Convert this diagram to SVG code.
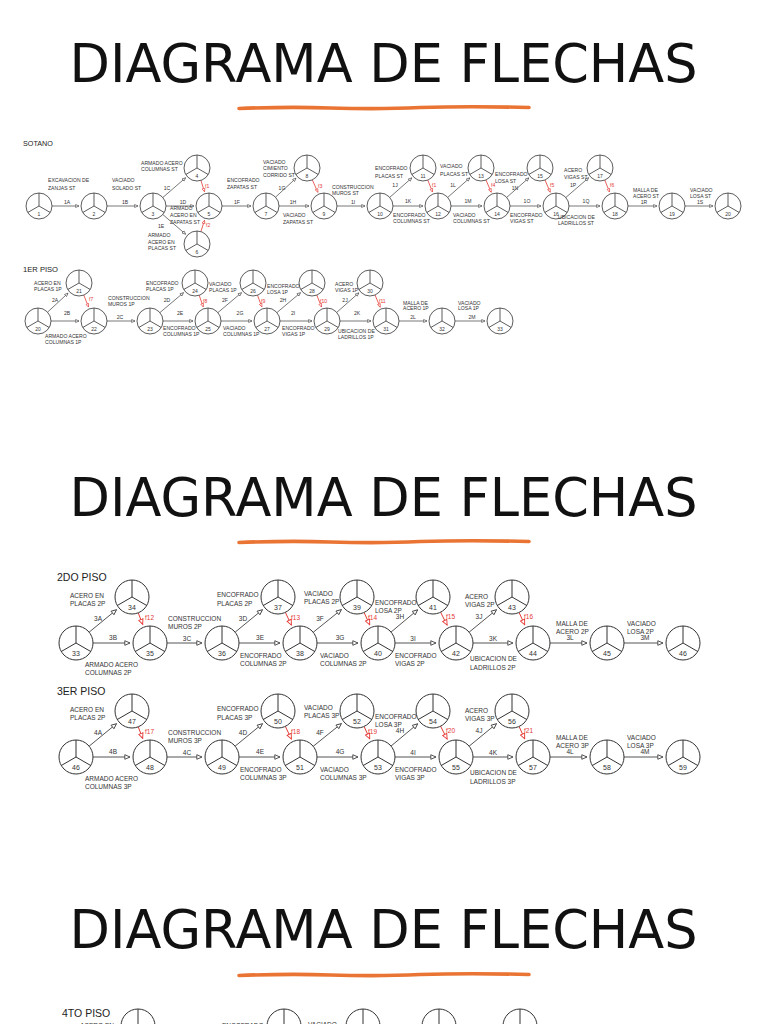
<svg xmlns="http://www.w3.org/2000/svg" width="768" height="1024" viewBox="0 0 768 1024">
<style>
.t{font-family:"DejaVu Sans","Liberation Sans",sans-serif;font-size:52.5px;fill:#111;text-anchor:middle}
.ul{fill:none;stroke:#ea7433;stroke-width:3.6;stroke-linecap:round}
.sec{font-family:"Liberation Sans",Arial,sans-serif;fill:#222}
.l5{font-family:"Liberation Sans",Arial,sans-serif;font-size:5.1px;fill:#333}
.a5{font-family:"Liberation Sans",Arial,sans-serif;font-size:5.1px;fill:#333;text-anchor:middle}
.n5{font-family:"Liberation Sans",Arial,sans-serif;font-size:5px;fill:#333;text-anchor:middle}
.r5{font-family:"Liberation Sans",Arial,sans-serif;font-size:5.1px;fill:#e53935}
.l6{font-family:"Liberation Sans",Arial,sans-serif;font-size:6.5px;fill:#333}
.a6{font-family:"Liberation Sans",Arial,sans-serif;font-size:6.5px;fill:#333;text-anchor:middle}
.n7{font-family:"Liberation Sans",Arial,sans-serif;font-size:7px;fill:#333;text-anchor:middle}
.r6{font-family:"Liberation Sans",Arial,sans-serif;font-size:6.5px;fill:#e53935}
.c1{fill:none;stroke:#555;stroke-width:0.8;marker-end:url(#a1)}
.r1{fill:none;stroke:#e53935;stroke-width:0.8;marker-end:url(#ar1)}
.c2{fill:none;stroke:#555;stroke-width:1;marker-end:url(#a2)}
.r2{fill:none;stroke:#e53935;stroke-width:1;marker-end:url(#ar2)}
</style>
<defs>
<marker id="a1" viewBox="0 0 10 10" refX="9" refY="5" markerWidth="4.2" markerHeight="4.2" markerUnits="userSpaceOnUse" orient="auto"><path d="M1,1.5L9,5L1,8.5Z" fill="#fff" stroke="#444" stroke-width="1.5"/></marker>
<marker id="ar1" viewBox="0 0 10 10" refX="9" refY="5" markerWidth="4.2" markerHeight="4.2" markerUnits="userSpaceOnUse" orient="auto"><path d="M1,1.5L9,5L1,8.5Z" fill="#fff" stroke="#e53935" stroke-width="1.5"/></marker>
<marker id="a2" viewBox="0 0 10 10" refX="9" refY="5" markerWidth="6.5" markerHeight="6.5" markerUnits="userSpaceOnUse" orient="auto"><path d="M1,1.5L9,5L1,8.5Z" fill="#fff" stroke="#444" stroke-width="1.4"/></marker>
<marker id="ar2" viewBox="0 0 10 10" refX="9" refY="5" markerWidth="6.5" markerHeight="6.5" markerUnits="userSpaceOnUse" orient="auto"><path d="M1,1.5L9,5L1,8.5Z" fill="#fff" stroke="#e53935" stroke-width="1.4"/></marker>
<g id="ns"><circle r="13" fill="#fff" stroke="#333" stroke-width="0.8"/><path d="M0,0V-13M0,0L-11.26,6.5M0,0L11.26,6.5" stroke="#333" stroke-width="0.8" fill="none"/></g>
<g id="nl"><circle r="17" fill="#fff" stroke="#333" stroke-width="1"/><path d="M0,0V-17M0,0L-14.72,8.5M0,0L14.72,8.5" stroke="#333" stroke-width="1" fill="none"/></g>
</defs>
<rect width="768" height="1024" fill="#fff"/>

<g id="titles">
<text class="t" x="383.5" y="82">DIAGRAMA DE FLECHAS</text>
<path class="ul" d="M239,108.5Q290,106.5 330,108Q380,109.5 420,107.5Q470,106 529,107.5"/>
<text class="t" x="383.5" y="516">DIAGRAMA DE FLECHAS</text>
<path class="ul" d="M239,542.5Q290,540.5 330,542Q380,543.5 420,541.5Q470,540 529,541.5"/>
<text class="t" x="383.5" y="948">DIAGRAMA DE FLECHAS</text>
<path class="ul" d="M239,975.5Q290,973.5 330,975Q380,976.5 420,974.5Q470,973 529,974.5"/>
</g>

<!-- SOTANO -->
<g id="sotano">
<text class="sec" x="23" y="146" font-size="7.2">SOTANO</text>
<g id="conn-sotano">
<path class="c1" d="M52,206H79"/>
<path class="c1" d="M107,206H138"/>
<path class="c1" d="M162.8,197.5L185.6,177.8"/>
<path class="c1" d="M166,206H194"/>
<path class="c1" d="M162.8,214.5L185.6,234.2"/>
<path class="c1" d="M222,206H251"/>
<path class="c1" d="M275.5,197.2L296,178.2"/>
<path class="c1" d="M279,206H309"/>
<path class="c1" d="M337,206H365"/>
<path class="c1" d="M389.7,197.4L411.8,177.9"/>
<path class="c1" d="M393,206H423"/>
<path class="c1" d="M447.7,197.4L469.8,177.9"/>
<path class="c1" d="M451,206H482"/>
<path class="c1" d="M506.7,197.4L528.8,177.9"/>
<path class="c1" d="M510,206H541"/>
<path class="c1" d="M565.8,197.5L588.6,177.8"/>
<path class="c1" d="M569,206H600"/>
<path class="c1" d="M628,206H657"/>
<path class="c1" d="M685,206H713"/>
<path class="r1" d="M200.9,180.4L204.5,191.7"/>
<path class="r1" d="M200.9,231.6L204.5,220.3"/>
<path class="r1" d="M312.3,179.9L317.9,192.3"/>
<path class="r1" d="M427.8,180.1L432.5,192"/>
<path class="r1" d="M486,180L491.2,192.2"/>
<path class="r1" d="M545,180L550.2,192.2"/>
<path class="r1" d="M604.8,180.1L609.5,192"/>
</g>
<g id="s-n1"><use href="#ns" x="39" y="206"/><text class="n5" x="39" y="216">1</text></g>
<g id="s-n2"><use href="#ns" x="94" y="206"/><text class="n5" x="94" y="216">2</text></g>
<g id="s-n3"><use href="#ns" x="153" y="206"/><text class="n5" x="153" y="216">3</text></g>
<g id="s-n4"><use href="#ns" x="197" y="168"/><text class="n5" x="197" y="178">4</text></g>
<g id="s-n5"><use href="#ns" x="209" y="206"/><text class="n5" x="209" y="216">5</text></g>
<g id="s-n6"><use href="#ns" x="197" y="244"/><text class="n5" x="197" y="254">6</text></g>
<g id="s-n7"><use href="#ns" x="266" y="206"/><text class="n5" x="266" y="216">7</text></g>
<g id="s-n8"><use href="#ns" x="307" y="168"/><text class="n5" x="307" y="178">8</text></g>
<g id="s-n9"><use href="#ns" x="324" y="206"/><text class="n5" x="324" y="216">9</text></g>
<g id="s-n10"><use href="#ns" x="380" y="206"/><text class="n5" x="380" y="216">10</text></g>
<g id="s-n11"><use href="#ns" x="423" y="168"/><text class="n5" x="423" y="178">11</text></g>
<g id="s-n12"><use href="#ns" x="438" y="206"/><text class="n5" x="438" y="216">12</text></g>
<g id="s-n13"><use href="#ns" x="481" y="168"/><text class="n5" x="481" y="178">13</text></g>
<g id="s-n14"><use href="#ns" x="497" y="206"/><text class="n5" x="497" y="216">14</text></g>
<g id="s-n15"><use href="#ns" x="540" y="168"/><text class="n5" x="540" y="178">15</text></g>
<g id="s-n16"><use href="#ns" x="556" y="206"/><text class="n5" x="556" y="216">16</text></g>
<g id="s-n17"><use href="#ns" x="600" y="168"/><text class="n5" x="600" y="178">17</text></g>
<g id="s-n18"><use href="#ns" x="615" y="206"/><text class="n5" x="615" y="216">18</text></g>
<g id="s-n19"><use href="#ns" x="672" y="206"/><text class="n5" x="672" y="216">19</text></g>
<g id="s-n20"><use href="#ns" x="728" y="206"/><text class="n5" x="728" y="216">20</text></g>
<g id="lbl-sotano">
<text class="l5" x="48" y="182">EXCAVACION DE<tspan x="48" y="189.5">ZANJAS ST</tspan></text>
<text class="l5" x="112" y="182">VACIADO<tspan x="112" y="189.5">SOLADO ST</tspan></text>
<text class="l5" x="141" y="164.5">ARMADO ACERO<tspan x="141" y="171">COLUMNAS ST</tspan></text>
<text class="l5" x="170" y="210">ARMADO<tspan x="170" y="216.8">ACERO EN</tspan><tspan x="170" y="223.5">ZAPATAS ST</tspan></text>
<text class="l5" x="148" y="236.8">ARMADO<tspan x="148" y="243.5">ACERO EN</tspan><tspan x="148" y="250">PLACAS ST</tspan></text>
<text class="l5" x="227" y="181.8">ENCOFRADO<tspan x="227" y="189">ZAPATAS ST</tspan></text>
<text class="l5" x="263" y="163.5">VACIADO<tspan x="263" y="170">CIMIENTO</tspan><tspan x="263" y="176.8">CORRIDO ST</tspan></text>
<text class="l5" x="283" y="216.8">VACIADO<tspan x="283" y="224">ZAPATAS ST</tspan></text>
<text class="l5" x="332" y="188.5">CONSTRUCCION<tspan x="332" y="195">MUROS ST</tspan></text>
<text class="l5" x="375" y="170">ENCOFRADO<tspan x="375" y="177.5">PLACAS ST</tspan></text>
<text class="l5" x="393" y="216.5">ENCOFRADO<tspan x="393" y="223">COLUMNAS ST</tspan></text>
<text class="l5" x="440" y="167.8">VACIADO<tspan x="440" y="175.5">PLACAS ST</tspan></text>
<text class="l5" x="453" y="216.5">VACIADO<tspan x="453" y="223">COLUMNAS ST</tspan></text>
<text class="l5" x="495" y="176.3">ENCOFRADO<tspan x="495" y="182.8">LOSA ST</tspan></text>
<text class="l5" x="510" y="216.5">ENCOFRADO<tspan x="510" y="223">VIGAS ST</tspan></text>
<text class="l5" x="564" y="171.8">ACERO<tspan x="564" y="178.5">VIGAS ST</tspan></text>
<text class="l5" x="558" y="218.5">UBICACION DE<tspan x="558" y="225">LADRILLOS ST</tspan></text>
<text class="l5" x="633" y="191.5">MALLA DE<tspan x="633" y="198">ACERO ST</tspan></text>
<text class="l5" x="690" y="191.5">VACIADO<tspan x="690" y="198">LOSA ST</tspan></text>
<text class="a5" x="67" y="203.5">1A</text>
<text class="a5" x="125" y="203.5">1B</text>
<text class="a5" x="167" y="190">1C</text>
<text class="a5" x="183" y="204">1D</text>
<text class="a5" x="161" y="228">1E</text>
<text class="a5" x="237" y="204">1F</text>
<text class="a5" x="282" y="190">1G</text>
<text class="a5" x="293" y="204">1H</text>
<text class="a5" x="353" y="204">1I</text>
<text class="a5" x="395" y="187">1J</text>
<text class="a5" x="408" y="203">1K</text>
<text class="a5" x="453" y="187">1L</text>
<text class="a5" x="468" y="203">1M</text>
<text class="a5" x="515" y="189.5">1N</text>
<text class="a5" x="527" y="203">1O</text>
<text class="a5" x="573" y="187">1P</text>
<text class="a5" x="586" y="203">1Q</text>
<text class="a5" x="644" y="204">1R</text>
<text class="a5" x="700" y="204">1S</text>
<text class="r5" x="205" y="188">f1</text>
<text class="r5" x="206" y="227">f2</text>
<text class="r5" x="318" y="188">f3</text>
<text class="r5" x="432" y="187">f1</text>
<text class="r5" x="491" y="187">f4</text>
<text class="r5" x="550" y="187">f5</text>
<text class="r5" x="610" y="187">f6</text>
</g>
</g>

<!-- 1ER PISO -->
<g id="piso1">
<text class="sec" x="23" y="272" font-size="7.6">1ER PISO</text>
<g id="conn-piso1">
<path class="c1" d="M47.5,312.2L68,293.2"/>
<path class="c1" d="M51,321H79"/>
<path class="c1" d="M107,321H135"/>
<path class="c1" d="M159.9,312.6L183.5,292.7"/>
<path class="c1" d="M163,321H193"/>
<path class="c1" d="M217.9,312.6L241.5,292.7"/>
<path class="c1" d="M221,321H252"/>
<path class="c1" d="M276.9,312.6L300.5,292.7"/>
<path class="c1" d="M280,321H312"/>
<path class="c1" d="M336.7,312.4L358.8,292.9"/>
<path class="c1" d="M340,321H371"/>
<path class="c1" d="M399,321H427"/>
<path class="c1" d="M455,321H485"/>
<path class="r1" d="M83.8,295.1L88.5,307"/>
<path class="r1" d="M199.2,295.3L203.2,306.8"/>
<path class="r1" d="M257.5,295.2L261.8,306.9"/>
<path class="r1" d="M316.8,295.1L321.5,307"/>
<path class="r1" d="M375,295L380.2,307.2"/>
</g>
<g id="p1-n20"><use href="#ns" x="38" y="321"/><text class="n5" x="38" y="331">20</text></g>
<g id="p1-n21"><use href="#ns" x="79" y="283"/><text class="n5" x="79" y="293">21</text></g>
<g id="p1-n22"><use href="#ns" x="94" y="321"/><text class="n5" x="94" y="331">22</text></g>
<g id="p1-n23"><use href="#ns" x="150" y="321"/><text class="n5" x="150" y="331">23</text></g>
<g id="p1-n24"><use href="#ns" x="195" y="283"/><text class="n5" x="195" y="293">24</text></g>
<g id="p1-n25"><use href="#ns" x="208" y="321"/><text class="n5" x="208" y="331">25</text></g>
<g id="p1-n26"><use href="#ns" x="253" y="283"/><text class="n5" x="253" y="293">26</text></g>
<g id="p1-n27"><use href="#ns" x="267" y="321"/><text class="n5" x="267" y="331">27</text></g>
<g id="p1-n28"><use href="#ns" x="312" y="283"/><text class="n5" x="312" y="293">28</text></g>
<g id="p1-n29"><use href="#ns" x="327" y="321"/><text class="n5" x="327" y="331">29</text></g>
<g id="p1-n30"><use href="#ns" x="370" y="283"/><text class="n5" x="370" y="293">30</text></g>
<g id="p1-n31"><use href="#ns" x="386" y="321"/><text class="n5" x="386" y="331">31</text></g>
<g id="p1-n32"><use href="#ns" x="442" y="321"/><text class="n5" x="442" y="331">32</text></g>
<g id="p1-n33"><use href="#ns" x="500" y="321"/><text class="n5" x="500" y="331">33</text></g>
<g id="lbl-piso1">
<text class="l5" x="34" y="285">ACERO EN<tspan x="34" y="291">PLACAS 1P</tspan></text>
<text class="l5" x="45" y="337.8">ARMADO ACERO<tspan x="45" y="343.5">COLUMNAS 1P</tspan></text>
<text class="l5" x="108" y="300">CONSTRUCCION<tspan x="108" y="306">MUROS 1P</tspan></text>
<text class="l5" x="146" y="284.5">ENCOFRADO<tspan x="146" y="290.5">PLACAS 1P</tspan></text>
<text class="l5" x="163" y="330">ENCOFRADO<tspan x="163" y="336">COLUMNAS 1P</tspan></text>
<text class="l5" x="209" y="285.8">VACIADO<tspan x="209" y="291.8">PLACAS 1P</tspan></text>
<text class="l5" x="223" y="330">VACIADO<tspan x="223" y="336">COLUMNAS 1P</tspan></text>
<text class="l5" x="267" y="287.8">ENCOFRADO<tspan x="267" y="294">LOSA 1P</tspan></text>
<text class="l5" x="282" y="330">ENCOFRADO<tspan x="282" y="336">VIGAS 1P</tspan></text>
<text class="l5" x="335" y="285.8">ACERO<tspan x="335" y="291.8">VIGAS 1P</tspan></text>
<text class="l5" x="338" y="332.5">UBICACION DE<tspan x="338" y="338.5">LADRILLOS 1P</tspan></text>
<text class="l5" x="403" y="304.5">MALLA DE<tspan x="403" y="310">ACERO 1P</tspan></text>
<text class="l5" x="458" y="304.5">VACIADO<tspan x="458" y="310">LOSA 1P</tspan></text>
<text class="a5" x="55" y="301.5">2A</text>
<text class="a5" x="67" y="315">2B</text>
<text class="a5" x="120" y="319">2C</text>
<text class="a5" x="167" y="302">2D</text>
<text class="a5" x="180" y="315">2E</text>
<text class="a5" x="225" y="302">2F</text>
<text class="a5" x="240" y="315">2G</text>
<text class="a5" x="283" y="302">2H</text>
<text class="a5" x="293" y="315">2I</text>
<text class="a5" x="345" y="302">2J</text>
<text class="a5" x="357" y="315">2K</text>
<text class="a5" x="413" y="319">2L</text>
<text class="a5" x="472" y="319">2M</text>
<text class="r5" x="89" y="301">f7</text>
<text class="r5" x="203" y="303">f8</text>
<text class="r5" x="261" y="303">f9</text>
<text class="r5" x="320" y="303">f10</text>
<text class="r5" x="379" y="303">f11</text>
</g>
</g>

<!-- 2DO PISO -->
<g id="piso2">
<text class="sec" x="57" y="581" font-size="10.5">2DO PISO</text>
<g id="conn-piso2">
<path class="c2" d="M89.1,632.2L116.5,609.7"/>
<path class="c2" d="M93,643H130"/>
<path class="c2" d="M167,643H202"/>
<path class="c2" d="M235.1,632.2L262.5,609.7"/>
<path class="c2" d="M239,643H280"/>
<path class="c2" d="M313.2,632.3L341.4,609.6"/>
<path class="c2" d="M317,643H358"/>
<path class="c2" d="M391,632.1L417.7,609.8"/>
<path class="c2" d="M395,643H436"/>
<path class="c2" d="M469.1,632.2L496.5,609.7"/>
<path class="c2" d="M473,643H513"/>
<path class="c2" d="M550,643H587"/>
<path class="c2" d="M624,643H663"/>
<path class="r2" d="M138.2,612.8L142.7,624.4"/>
<path class="r2" d="M285.3,612.3L291.4,625"/>
<path class="r2" d="M364.1,612.5L369.7,624.8"/>
<path class="r2" d="M440.6,612.2L447.1,625.1"/>
<path class="r2" d="M519.1,612.5L524.7,624.8"/>
</g>
<g id="p2-n33"><use href="#nl" x="76" y="643"/><text class="n7" x="76" y="656">33</text></g>
<g id="p2-n34"><use href="#nl" x="132" y="597"/><text class="n7" x="132" y="610">34</text></g>
<g id="p2-n35"><use href="#nl" x="150" y="643"/><text class="n7" x="150" y="656">35</text></g>
<g id="p2-n36"><use href="#nl" x="222" y="643"/><text class="n7" x="222" y="656">36</text></g>
<g id="p2-n37"><use href="#nl" x="278" y="597"/><text class="n7" x="278" y="610">37</text></g>
<g id="p2-n38"><use href="#nl" x="300" y="643"/><text class="n7" x="300" y="656">38</text></g>
<g id="p2-n39"><use href="#nl" x="357" y="597"/><text class="n7" x="357" y="610">39</text></g>
<g id="p2-n40"><use href="#nl" x="378" y="643"/><text class="n7" x="378" y="656">40</text></g>
<g id="p2-n41"><use href="#nl" x="433" y="597"/><text class="n7" x="433" y="610">41</text></g>
<g id="p2-n42"><use href="#nl" x="456" y="643"/><text class="n7" x="456" y="656">42</text></g>
<g id="p2-n43"><use href="#nl" x="512" y="597"/><text class="n7" x="512" y="610">43</text></g>
<g id="p2-n44"><use href="#nl" x="533" y="643"/><text class="n7" x="533" y="656">44</text></g>
<g id="p2-n45"><use href="#nl" x="607" y="643"/><text class="n7" x="607" y="656">45</text></g>
<g id="p2-n46"><use href="#nl" x="683" y="643"/><text class="n7" x="683" y="656">46</text></g>
<g id="lbl-piso2">
<text class="l6" x="70" y="597.5">ACERO EN<tspan x="70" y="606">PLACAS 2P</tspan></text>
<text class="l6" x="85" y="666.5">ARMADO ACERO<tspan x="85" y="674.5">COLUMNAS 2P</tspan></text>
<text class="l6" x="168" y="620.7">CONSTRUCCION<tspan x="168" y="628.7">MUROS 2P</tspan></text>
<text class="l6" x="217" y="597.3">ENCOFRADO<tspan x="217" y="605.7">PLACAS 2P</tspan></text>
<text class="l6" x="240" y="658">ENCOFRADO<tspan x="240" y="666.3">COLUMNAS 2P</tspan></text>
<text class="l6" x="304" y="595.7">VACIADO<tspan x="304" y="603.7">PLACAS 2P</tspan></text>
<text class="l6" x="320" y="658">VACIADO<tspan x="320" y="666.3">COLUMNAS 2P</tspan></text>
<text class="l6" x="375" y="604.5">ENCOFRADO<tspan x="375" y="612.5">LOSA 2P</tspan></text>
<text class="l6" x="395" y="657.7">ENCOFRADO<tspan x="395" y="665.5">VIGAS 2P</tspan></text>
<text class="l6" x="465" y="599">ACERO<tspan x="465" y="607.3">VIGAS 2P</tspan></text>
<text class="l6" x="470" y="661">UBICACION DE<tspan x="470" y="670">LADRILLOS 2P</tspan></text>
<text class="l6" x="556" y="625.7">MALLA DE<tspan x="556" y="633.5">ACERO 2P</tspan></text>
<text class="l6" x="627" y="625.7">VACIADO<tspan x="627" y="633.5">LOSA 2P</tspan></text>
<text class="a6" x="98" y="621">3A</text>
<text class="a6" x="113" y="640">3B</text>
<text class="a6" x="187" y="641">3C</text>
<text class="a6" x="243" y="621">3D</text>
<text class="a6" x="260" y="640">3E</text>
<text class="a6" x="320" y="621">3F</text>
<text class="a6" x="340" y="640">3G</text>
<text class="a6" x="400" y="619">3H</text>
<text class="a6" x="413" y="641">3I</text>
<text class="a6" x="479" y="619">3J</text>
<text class="a6" x="493" y="641">3K</text>
<text class="a6" x="570" y="640">3L</text>
<text class="a6" x="645" y="640">3M</text>
<text class="r6" x="145" y="620">f12</text>
<text class="r6" x="291" y="620">f13</text>
<text class="r6" x="368" y="620">f14</text>
<text class="r6" x="446" y="619">f15</text>
<text class="r6" x="524" y="619">f16</text>
</g>
</g>

<!-- 3ER PISO -->
<g id="piso3" transform="translate(0,114)">
<text class="sec" x="57" y="581" font-size="10.5">3ER PISO</text>
<g id="conn-piso3">
<path class="c2" d="M89.1,632.2L116.5,609.7"/>
<path class="c2" d="M93,643H130"/>
<path class="c2" d="M167,643H202"/>
<path class="c2" d="M235.1,632.2L262.5,609.7"/>
<path class="c2" d="M239,643H280"/>
<path class="c2" d="M313.2,632.3L341.4,609.6"/>
<path class="c2" d="M317,643H358"/>
<path class="c2" d="M391,632.1L417.7,609.8"/>
<path class="c2" d="M395,643H436"/>
<path class="c2" d="M469.1,632.2L496.5,609.7"/>
<path class="c2" d="M473,643H513"/>
<path class="c2" d="M550,643H587"/>
<path class="c2" d="M624,643H663"/>
<path class="r2" d="M138.2,612.8L142.7,624.4"/>
<path class="r2" d="M285.3,612.3L291.4,625"/>
<path class="r2" d="M364.1,612.5L369.7,624.8"/>
<path class="r2" d="M440.6,612.2L447.1,625.1"/>
<path class="r2" d="M519.1,612.5L524.7,624.8"/>
</g>
<g id="p3-n46"><use href="#nl" x="76" y="643"/><text class="n7" x="76" y="656">46</text></g>
<g id="p3-n47"><use href="#nl" x="132" y="597"/><text class="n7" x="132" y="610">47</text></g>
<g id="p3-n48"><use href="#nl" x="150" y="643"/><text class="n7" x="150" y="656">48</text></g>
<g id="p3-n49"><use href="#nl" x="222" y="643"/><text class="n7" x="222" y="656">49</text></g>
<g id="p3-n50"><use href="#nl" x="278" y="597"/><text class="n7" x="278" y="610">50</text></g>
<g id="p3-n51"><use href="#nl" x="300" y="643"/><text class="n7" x="300" y="656">51</text></g>
<g id="p3-n52"><use href="#nl" x="357" y="597"/><text class="n7" x="357" y="610">52</text></g>
<g id="p3-n53"><use href="#nl" x="378" y="643"/><text class="n7" x="378" y="656">53</text></g>
<g id="p3-n54"><use href="#nl" x="433" y="597"/><text class="n7" x="433" y="610">54</text></g>
<g id="p3-n55"><use href="#nl" x="456" y="643"/><text class="n7" x="456" y="656">55</text></g>
<g id="p3-n56"><use href="#nl" x="512" y="597"/><text class="n7" x="512" y="610">56</text></g>
<g id="p3-n57"><use href="#nl" x="533" y="643"/><text class="n7" x="533" y="656">57</text></g>
<g id="p3-n58"><use href="#nl" x="607" y="643"/><text class="n7" x="607" y="656">58</text></g>
<g id="p3-n59"><use href="#nl" x="683" y="643"/><text class="n7" x="683" y="656">59</text></g>
<g id="lbl-piso3">
<text class="l6" x="70" y="597.5">ACERO EN<tspan x="70" y="606">PLACAS 2P</tspan></text>
<text class="l6" x="85" y="666.5">ARMADO ACERO<tspan x="85" y="674.5">COLUMNAS 3P</tspan></text>
<text class="l6" x="168" y="620.7">CONSTRUCCION<tspan x="168" y="628.7">MUROS 3P</tspan></text>
<text class="l6" x="217" y="597.3">ENCOFRADO<tspan x="217" y="605.7">PLACAS 3P</tspan></text>
<text class="l6" x="240" y="658">ENCOFRADO<tspan x="240" y="666.3">COLUMNAS 3P</tspan></text>
<text class="l6" x="304" y="595.7">VACIADO<tspan x="304" y="603.7">PLACAS 3P</tspan></text>
<text class="l6" x="320" y="658">VACIADO<tspan x="320" y="666.3">COLUMNAS 3P</tspan></text>
<text class="l6" x="375" y="604.5">ENCOFRADO<tspan x="375" y="612.5">LOSA 3P</tspan></text>
<text class="l6" x="395" y="657.7">ENCOFRADO<tspan x="395" y="665.5">VIGAS 3P</tspan></text>
<text class="l6" x="465" y="599">ACERO<tspan x="465" y="607.3">VIGAS 3P</tspan></text>
<text class="l6" x="470" y="661">UBICACION DE<tspan x="470" y="670">LADRILLOS 3P</tspan></text>
<text class="l6" x="556" y="625.7">MALLA DE<tspan x="556" y="633.5">ACERO 3P</tspan></text>
<text class="l6" x="627" y="625.7">VACIADO<tspan x="627" y="633.5">LOSA 3P</tspan></text>
<text class="a6" x="98" y="621">4A</text>
<text class="a6" x="113" y="640">4B</text>
<text class="a6" x="187" y="641">4C</text>
<text class="a6" x="243" y="621">4D</text>
<text class="a6" x="260" y="640">4E</text>
<text class="a6" x="320" y="621">4F</text>
<text class="a6" x="340" y="640">4G</text>
<text class="a6" x="400" y="619">4H</text>
<text class="a6" x="413" y="641">4I</text>
<text class="a6" x="479" y="619">4J</text>
<text class="a6" x="493" y="641">4K</text>
<text class="a6" x="570" y="640">4L</text>
<text class="a6" x="645" y="640">4M</text>
<text class="r6" x="145" y="620">f17</text>
<text class="r6" x="291" y="620">f18</text>
<text class="r6" x="368" y="620">f19</text>
<text class="r6" x="446" y="619">f20</text>
<text class="r6" x="524" y="619">f21</text>
</g>
</g>

<!-- 4TO PISO (cut off at bottom of page, as in the reference) -->
<g id="piso4">
<text class="sec" x="62" y="1017" font-size="10.5">4TO PISO</text>
<g id="p4-n1"><use href="#nl" x="138" y="1026"/></g>
<g id="p4-n2"><use href="#nl" x="284" y="1026"/></g>
<g id="p4-n3"><use href="#nl" x="363" y="1026"/></g>
<g id="p4-n4"><use href="#nl" x="439" y="1026"/></g>
<g id="p4-n5"><use href="#nl" x="520" y="1026"/></g>
<text class="l6" x="80" y="1028">ACERO EN</text>
<text class="l6" x="222" y="1027.5">ENCOFRADO</text>
<text class="l6" x="308" y="1026.5">VACIADO</text>
</g>
</svg>
